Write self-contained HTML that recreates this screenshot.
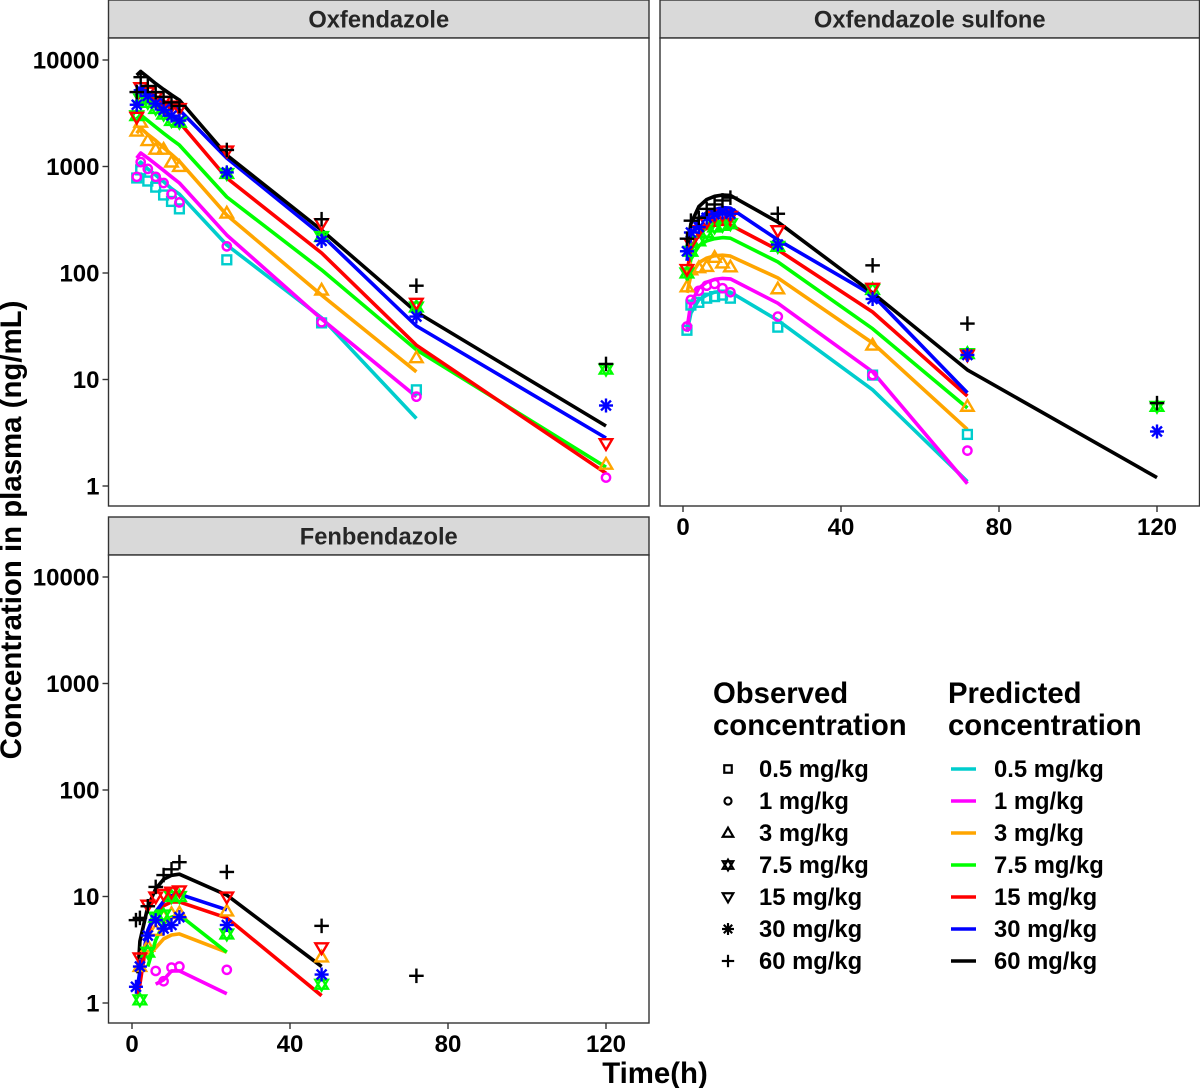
<!DOCTYPE html>
<html>
<head>
<meta charset="utf-8">
<title>Concentration in plasma</title>
<style>
html,body{margin:0;padding:0;background:#fff;}
svg{display:block;}
text{font-family:"Liberation Sans",sans-serif;font-weight:bold;fill:#000;}
</style>
</head>
<body>
<svg id="chart" xmlns="http://www.w3.org/2000/svg" width="1200" height="1088" viewBox="0 0 1200 1088">
  <text transform="translate(21,530) rotate(-90)" text-anchor="middle" font-size="29.4">Concentration in plasma (ng/mL)</text>
  <text x="655" y="1083" text-anchor="middle" font-size="29.4">Time(h)</text>
  <g id="panels"></g>
  <g id="legend">
    <text x="713" y="703" font-size="29.3">Observed</text>
    <text x="713" y="735" font-size="29.3">concentration</text>
    <text x="948" y="703" font-size="29.3">Predicted</text>
    <text x="948" y="735" font-size="29.3">concentration</text>
  </g>
</svg>
<script>
const doseLabels = ['0.5 mg/kg','1 mg/kg','3 mg/kg','7.5 mg/kg','15 mg/kg','30 mg/kg','60 mg/kg'];
const doseColors = ['#00CDCD','#FF00FF','#FFA500','#00FF00','#FF0000','#0000FF','#000000'];
const doseShapes = ['square','circle','triangle','star','nabla','asterisk','plus'];
const xTicks = [0,40,80,120];
const yTicks = [1,10,100,1000,10000];
const panelTitles = ['Oxfendazole','Oxfendazole sulfone','Fenbendazole'];

/* Oxfendazole */
const oxfTimes = [1.2,2.2,4,6,8,10,12,24,48,72,120];
const oxfObs05 = [780,930,730,640,540,470,400,133,34,8,null];
const oxfObs1 = [800,1100,950,800,700,550,460,178,34.5,6.9,1.2];
const oxfObs3 = [2150,2600,1750,1450,1450,1100,1000,365,69,16,1.6];
const oxfObs75 = [3000,4300,4000,3500,3100,2700,2600,860,220,48,12.5];
const oxfObs15 = [2900,5500,5000,4500,4100,3700,3500,1400,290,52,2.5];
const oxfObs30 = [3800,5200,4600,3900,3400,3000,2700,880,200,39,5.7];
const oxfObs60 = [5000,6900,5700,5000,4500,4000,3700,1430,320,76,14];
const oxfPred05 = [1000,1100,950,830,720,620,550,183,38,4.3,null];
const oxfPred1 = [1200,1340,1200,1050,920,800,700,227,37,6.9,null];
const oxfPred3 = [2050,2300,2000,1750,1500,1300,1120,350,62,11.8,null];
const oxfPred75 = [2800,3050,2700,2350,2050,1800,1590,517,107,19,1.5];
const oxfPred15 = [4200,4700,4200,3700,3300,2900,2600,780,154,21,1.32];
const oxfPred30 = [5000,5500,5000,4500,4100,3700,3400,1200,227,31.8,2.82];
const oxfPred60 = [7200,7800,6900,6000,5300,4700,4200,1280,253,43,3.66];

/* Oxfendazole sulfone */
const sulTimes = [1,2,4,6,8,10,12,24,48,72,120];
const sulObs05 = [29,50,53,58,60,62,58,31,11,3.05,null];
const sulObs1 = [31.5,56,68,76,79,72,66,39,11,2.15,null];
const sulObs3 = [74,107,112,115,140,124,114,71,21,5.6,null];
const sulObs75 = [100,160,200,240,270,280,290,178,70,17.5,5.6];
const sulObs15 = [108,190,250,300,340,350,340,250,72,17,null];
const sulObs30 = [160,240,270,330,355,370,360,185,57,17,3.25];
const sulObs60 = [210,310,330,400,440,480,510,360,118,33.5,6];
const sulPred05 = [28,42,56,62,66,67,66,36,8,1.1,null];
const sulPred1 = [30,52,72,82,87,89,88,52,11.8,1.05,null];
const sulPred3 = [65,95,125,138,145,147,144,90,22,3.4,null];
const sulPred75 = [85,135,180,200,210,215,212,127,30,5.4,null];
const sulPred15 = [100,170,235,265,280,287,282,165,43,7,null];
const sulPred30 = [130,220,320,370,395,410,407,205,62,7.5,null];
const sulPred60 = [170,290,420,490,525,540,535,301,65,12.3,1.2];

/* Fenbendazole */
const fenObsTimes = [1,2,4,6,8,10,12,24,48,72];
const fenObs05 = [null,null,null,null,null,null,null,null,null,null];
const fenObs1 = [null,null,null,2,1.6,2.15,2.2,2.05,null,null];
const fenObs3 = [null,2.2,3.4,4.8,6.5,6.9,7,7.3,2.7,null];
const fenObs75 = [null,1.07,3,6.4,6.7,10,10,4.45,1.5,null];
const fenObs15 = [null,2.65,8.3,9.9,10.5,11,11.3,9.9,3.3,null];
const fenObs30 = [1.42,2.2,4.3,6,5,5.4,6.4,5.4,1.85,null];
const fenObs60 = [6,6.3,8.1,12.3,15.9,18,21,17,5.3,1.8];
const fenPredTimes = [1.5,2,4,6,8,10,12,24,48];
const fenPred05 = [null,null,null,null,null,null,null,null,null];
const fenPred1 = [null,null,null,1.5,1.65,2,2,1.22,null];
const fenPred3 = [null,null,2.8,3.3,4,4.35,4.45,3,null];
const fenPred75 = [null,null,2.2,3.9,5.6,6.4,6.7,3,null];
const fenPred15 = [1.2,1.5,4.5,7,8.2,8.9,8.9,6.3,1.17];
const fenPred30 = [1.5,2,4.8,7.2,9,10.2,10.5,7.5,null];
const fenPred60 = [1.9,3.8,8,11.8,14.5,15.8,16.2,10.3,2.2];

const SVGNS = 'http://www.w3.org/2000/svg';
const panelsRoot = document.getElementById('panels');
const legendRoot = document.getElementById('legend');

function mk(parent, tag, attrs) {
  const el = document.createElementNS(SVGNS, tag);
  for (const k in attrs) el.setAttribute(k, attrs[k]);
  parent.appendChild(el);
  return el;
}

function drawMarker(parent, shape, cx, cy, color, s) {
  const g = mk(parent, 'g', {fill:'none', stroke:color, 'stroke-width':2.4*Math.max(s,0.9)});
  const a = 5.2*s;
  const up = `${cx-a*1.2},${cy+a*0.85} ${cx+a*1.2},${cy+a*0.85} ${cx},${cy-a*1.2}`;
  const dn = `${cx-a*1.2},${cy-a*0.85} ${cx+a*1.2},${cy-a*0.85} ${cx},${cy+a*1.2}`;
  if (shape === 'square') mk(g, 'rect', {x:cx-a*0.85, y:cy-a*0.85, width:a*1.7, height:a*1.7});
  if (shape === 'circle') mk(g, 'circle', {cx:cx, cy:cy, r:a*0.8});
  if (shape === 'triangle') mk(g, 'polygon', {points:up});
  if (shape === 'nabla') mk(g, 'polygon', {points:dn});
  if (shape === 'star') { mk(g, 'polygon', {points:up}); mk(g, 'polygon', {points:dn}); }
  if (shape === 'plus') {
    mk(g, 'line', {x1:cx-a*1.4, y1:cy, x2:cx+a*1.4, y2:cy});
    mk(g, 'line', {x1:cx, y1:cy-a*1.4, x2:cx, y2:cy+a*1.4});
  }
  if (shape === 'asterisk') {
    const r = a*1.35;
    mk(g, 'line', {x1:cx-r, y1:cy, x2:cx+r, y2:cy});
    mk(g, 'line', {x1:cx, y1:cy-r, x2:cx, y2:cy+r});
    const d = r*0.707;
    mk(g, 'line', {x1:cx-d, y1:cy-d, x2:cx+d, y2:cy+d});
    mk(g, 'line', {x1:cx-d, y1:cy+d, x2:cx+d, y2:cy-d});
  }
  return g;
}

function drawPanel(index, geom, predTimes, preds, obsTimes, obs) {
  const xScale = t => geom.x0 + t * 3.95;
  const yScale = v => geom.y1 - Math.log10(v) * 106.5;
  const g = mk(panelsRoot, 'g', {});
  
  

  const strip = mk(g, 'rect', {x:geom.left, y:geom.top-38, width:geom.right-geom.left, height:38, fill:'#D9D9D9', stroke:'#333333', 'stroke-width':1.4});
  
  
  const title = mk(g, 'text', {x:(geom.left+geom.right)/2, y:geom.top-10.5, 'text-anchor':'middle', 'font-size':23.7});
  title.style.fill = '#262626';
  title.textContent = panelTitles[index];
  
  

  const frame = mk(g, 'rect', {x:geom.left, y:geom.top, width:geom.right-geom.left, height:geom.bottom-geom.top, fill:'#fff', stroke:'#333333', 'stroke-width':1.4});
  
  

  if (geom.showY) {
    yTicks.forEach(v => {
      const y = yScale(v);
      const tick = mk(g, 'line', {x1:geom.left-6, x2:geom.left, y1:y, y2:y, stroke:'#333333', 'stroke-width':1.4});
      
      
      const lab = mk(g, 'text', {x:geom.left-9, y:y+8.5, 'text-anchor':'end', 'font-size':24});
      lab.textContent = String(v);
      
      
    });
  }
  if (geom.showX) {
    xTicks.forEach(v => {
      const x = xScale(v);
      const tick = mk(g, 'line', {x1:x, x2:x, y1:geom.bottom, y2:geom.bottom+6, stroke:'#333333', 'stroke-width':1.4});
      
      
      const lab = mk(g, 'text', {x:x, y:geom.bottom+29, 'text-anchor':'middle', 'font-size':24});
      lab.textContent = String(v);
      
      
    });
  }

  preds.forEach((series, i) => {
    const pts = [];
    series.forEach((v, k) => { if (v !== null) pts.push(xScale(predTimes[k]).toFixed(1) + ',' + yScale(v).toFixed(1)); });
    if (!pts.length) return;
    const line = mk(g, 'polyline', {points:pts.join(' '), fill:'none', stroke:doseColors[i], 'stroke-width':3.6, 'stroke-linejoin':'round'});
    
    
  });
  obs.forEach((series, i) => {
    series.forEach((v, k) => {
      if (v === null) return;
      const m = drawMarker(g, doseShapes[i], xScale(obsTimes[k]), yScale(v), doseColors[i], 1);
      
      
    });
  });
}

drawPanel(0, {left:108.5, right:649, top:38, bottom:506, x0:132, y1:486, showY:true, showX:false},
  oxfTimes, [oxfPred05,oxfPred1,oxfPred3,oxfPred75,oxfPred15,oxfPred30,oxfPred60],
  oxfTimes, [oxfObs05,oxfObs1,oxfObs3,oxfObs75,oxfObs15,oxfObs30,oxfObs60]);
drawPanel(1, {left:660, right:1199.5, top:38, bottom:506, x0:683, y1:486, showY:false, showX:true},
  sulTimes, [sulPred05,sulPred1,sulPred3,sulPred75,sulPred15,sulPred30,sulPred60],
  sulTimes, [sulObs05,sulObs1,sulObs3,sulObs75,sulObs15,sulObs30,sulObs60]);
drawPanel(2, {left:108.5, right:649, top:555, bottom:1023, x0:132, y1:1003, showY:true, showX:true},
  fenPredTimes, [fenPred05,fenPred1,fenPred3,fenPred75,fenPred15,fenPred30,fenPred60],
  fenObsTimes, [fenObs05,fenObs1,fenObs3,fenObs75,fenObs15,fenObs30,fenObs60]);

doseLabels.forEach((label, i) => {
  const y = 769 + i * 32;
  const m = drawMarker(legendRoot, doseShapes[i], 728, y, '#000', 0.85);
  
  
  const t1 = mk(legendRoot, 'text', {x:759, y:y+8, 'font-size':23.8});
  t1.textContent = label;
  
  
  const ln = mk(legendRoot, 'line', {x1:951, x2:976, y1:y, y2:y, stroke:doseColors[i], 'stroke-width':3.6});
  
  
  const t2 = mk(legendRoot, 'text', {x:994, y:y+8, 'font-size':23.8});
  t2.textContent = label;
  
  
});
</script>
</body>
</html>
